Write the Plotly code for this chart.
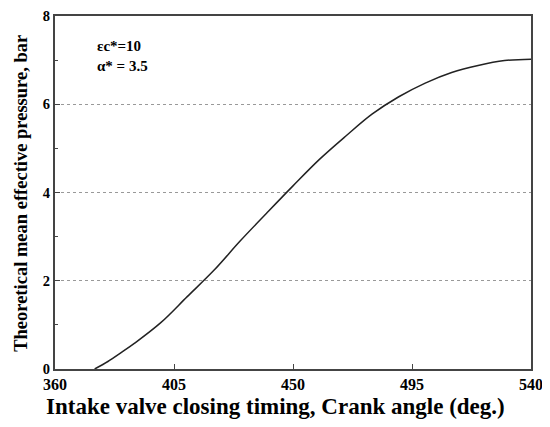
import plotly.graph_objects as go

crank_angle = [375, 380, 385, 390, 400, 410, 420, 430, 440, 450, 460, 470, 480, 490, 500, 510, 520, 530, 540]
imep_bar = [0.0, 0.17, 0.37, 0.58, 1.05, 1.64, 2.23, 2.90, 3.53, 4.15, 4.75, 5.28, 5.78, 6.17, 6.48, 6.72, 6.88, 6.99, 7.02]
x_ticks = [360, 405, 450, 495, 540]
y_ticks = [0, 2, 4, 6, 8]

font_family = "Liberation Serif"
axis_color = "#444444"

fig = go.Figure()
fig.add_trace(go.Scatter(x=crank_angle, y=imep_bar, mode="lines",
                         line=dict(color="#222222", width=1.5, shape="spline"),
                         showlegend=False))

fig.update_layout(
    width=550, height=427,
    margin=dict(l=47, r=27, t=8, b=66),
    paper_bgcolor="white", plot_bgcolor="white",
    font=dict(family=font_family, color="black"),
)
fig.update_xaxes(
    range=[360, 540], tickvals=x_ticks,
    ticktext=[f"<b>{v}</b>" for v in x_ticks],
    tickfont=dict(size=16, family=font_family),
    showgrid=False, zeroline=False,
    showline=True, linecolor=axis_color, linewidth=2, mirror=True,
    ticks="inside", ticklen=5, tickcolor=axis_color, tickwidth=1,
    ticklabeloverflow="allow", automargin=False,
)
fig.update_yaxes(
    range=[0, 8], tickvals=y_ticks,
    ticktext=[f"<b>{v}</b>" for v in y_ticks],
    tickfont=dict(size=14.5, family=font_family),
    showgrid=True, gridcolor="#999999", griddash="dot", gridwidth=1,
    zeroline=False,
    showline=True, linecolor=axis_color, linewidth=2, mirror=True,
    ticks="inside", ticklen=5, tickcolor=axis_color, tickwidth=1,
    ticklabeloverflow="allow", automargin=False,
    minor=dict(tickvals=[1, 3, 5, 7], ticks="inside", ticklen=3, tickcolor=axis_color, showgrid=False),
)
fig.add_annotation(x=0.463, y=-0.106, xref="paper", yref="paper", xanchor="center", yanchor="middle",
                   text="<b>Intake valve closing timing, Crank angle (deg.)</b>", showarrow=False,
                   font=dict(size=23, family=font_family))
fig.add_annotation(x=-0.073, y=0.497, xref="paper", yref="paper", xanchor="center", yanchor="middle",
                   text="<b>Theoretical mean effective pressure, bar</b>", showarrow=False,
                   textangle=-90, font=dict(size=18.5, family=font_family))
fig.add_annotation(x=0.084, y=0.916, xref="paper", yref="paper", xanchor="left", yanchor="middle",
                   text="<b>εc*=10</b>", showarrow=False,
                   font=dict(size=15, family=font_family))
fig.add_annotation(x=0.084, y=0.858, xref="paper", yref="paper", xanchor="left", yanchor="middle",
                   text="<b>α* = 3.5</b>", showarrow=False,
                   font=dict(size=15, family=font_family))

fig.write_html("out.html")
